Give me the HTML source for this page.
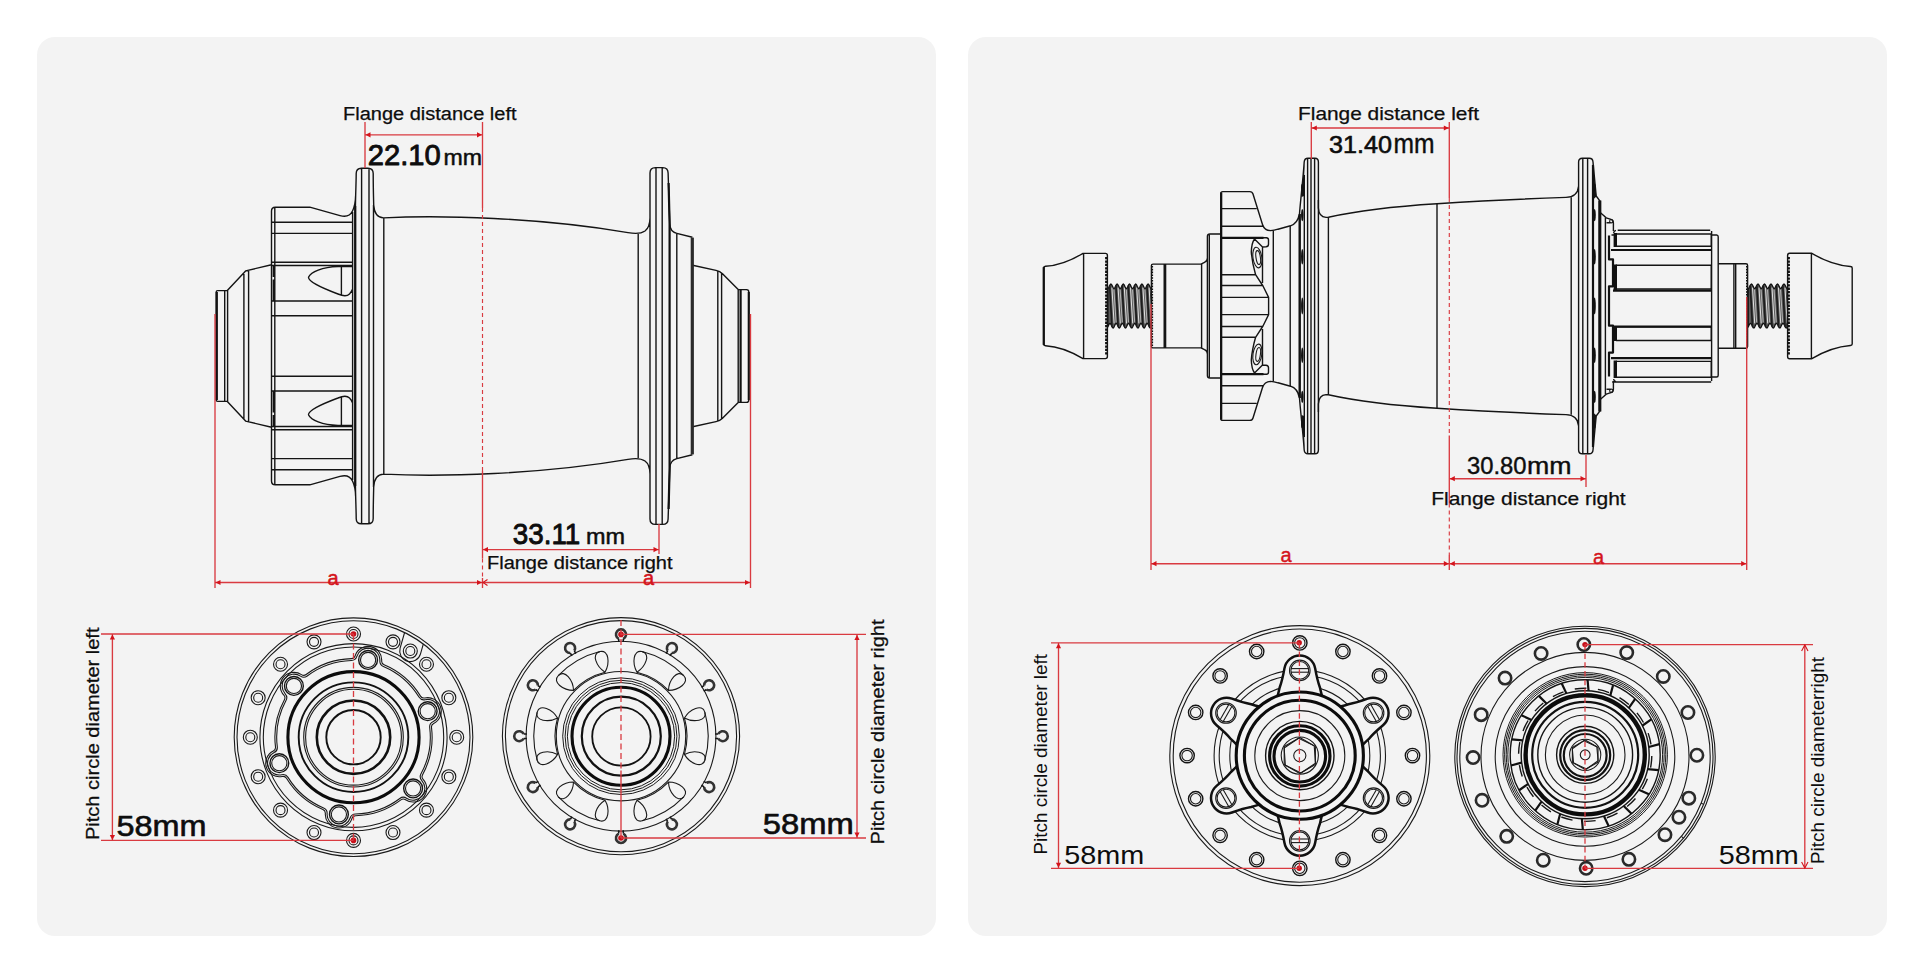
<!DOCTYPE html>
<html lang="en"><head><meta charset="utf-8"><title>Hub flange dimensions</title>
<style>
html,body{margin:0;padding:0;background:#fff;overflow:hidden}
svg{display:block;position:absolute;left:0;top:0}
text{font-family:"Liberation Sans",sans-serif;white-space:pre}
.k{fill:none;stroke:#141414;stroke-width:1.4;stroke-linecap:butt;stroke-linejoin:round}
.k2{fill:none;stroke:#111;stroke-width:2.2;stroke-linecap:butt;stroke-linejoin:round}
.k3{fill:none;stroke:#0c0c0c;stroke-width:3.1;stroke-linecap:butt;stroke-linejoin:round}
.t{fill:none;stroke:#1a1a1a;stroke-width:1.1;stroke-linecap:butt;stroke-linejoin:round}
</style></head><body>
<svg width="1920" height="973" viewBox="0 0 1920 973">
<rect x="37" y="37" width="899" height="899" rx="18" fill="#f3f3f3"/>
<rect x="968" y="37" width="919" height="899" rx="18" fill="#f3f3f3"/>
<path class="k" d="M216.2,346.0 V292 Q216.2,290.6 217.6,290.6 H227.3 L245.6,270.9 L271.5,264.7 M224.7,346.0 V290.8 M227.6,346.0 V290.4 M243.9,346.0 V272.5 M248.6,346.0 V270.2 M271.5,346.0 V211 Q271.5,207.2 275.3,207.2 H309.8 L340,215.6 Q349,218.2 352.5,211 Q355.4,205 355.6,196 M274.8,346.0 V208 M271.5,222.3 H352.4 M271.5,233.4 H352.4 M271.5,262.3 H352.4 M271.5,265.5 H352.4 M271.5,301 H352.4 M271.5,315.8 H352.4 M352,266.6 H338 C322,267 311,272 308.6,277 C307.5,281 322,288 338,294 Q346,297.5 349.5,294 Q351.5,292 352.3,289.5 M341.4,266.8 V294.6 M352.6,346.0 V212 M273.4,266 V277 M273.4,279.5 V300.5 M355.4,346.0 V210 C355.5,195 356.2,182 356.2,173.6 Q356.2,168.3 361.4,168.3 H368 Q373.2,168.3 373.2,173.6 C373.2,185 373.5,197 373.7,205 Q374.5,217.5 383.5,217.9 M361.6,346.0 V168.5 M369,346.0 V168.5 M373.5,346.0 V205 M383.8,346.0 V218 M383.5,217.9 C440,215 540,217.5 628,232.6 Q639.5,234.8 645,231 Q649.8,227.5 650,218 M638.2,346.0 V234 M650,346.0 V173 Q650,167.6 655.4,167.6 H662.8 Q668,167.6 668.1,173 L669.8,224 Q670,231.6 676.8,233.4 L692.4,237.3 M656,346.0 V167.6 M662.2,346.0 V167.6 M676.8,346.0 V233 M717.8,346.0 V271 M721.6,346.0 V273 M738.2,346.0 V290 M692.6,265.2 L716,270.4 Q720,271.2 722.5,273.8 L738.2,289.6 H746.5 Q748.8,289.6 748.8,292"/>
<path class="k2" d="M740.6,346.0 V289.8 M355.2,346.0 V206 M668.6,183 L669.6,224 V346.0 M748.8,346.0 V292 M216.8,346.0 V292"/>
<path class="k2" style="stroke-width:3.2;stroke:#2a2a2a" d="M692.3,346.0 V237.6"/>
<path class="k" d="M216.2,346.0 V292 Q216.2,290.6 217.6,290.6 H227.3 L245.6,270.9 L271.5,264.7 M224.7,346.0 V290.8 M227.6,346.0 V290.4 M243.9,346.0 V272.5 M248.6,346.0 V270.2 M271.5,346.0 V211 Q271.5,207.2 275.3,207.2 H309.8 L340,215.6 Q349,218.2 352.5,211 Q355.4,205 355.6,196 M274.8,346.0 V208 M271.5,222.3 H352.4 M271.5,233.4 H352.4 M271.5,262.3 H352.4 M271.5,265.5 H352.4 M271.5,301 H352.4 M271.5,315.8 H352.4 M352,266.6 H338 C322,267 311,272 308.6,277 C307.5,281 322,288 338,294 Q346,297.5 349.5,294 Q351.5,292 352.3,289.5 M341.4,266.8 V294.6 M352.6,346.0 V212 M273.4,266 V277 M273.4,279.5 V300.5 M355.4,346.0 V210 C355.5,195 356.2,182 356.2,173.6 Q356.2,168.3 361.4,168.3 H368 Q373.2,168.3 373.2,173.6 C373.2,185 373.5,197 373.7,205 Q374.5,217.5 383.5,217.9 M361.6,346.0 V168.5 M369,346.0 V168.5 M373.5,346.0 V205 M383.8,346.0 V218 M383.5,217.9 C440,215 540,217.5 628,232.6 Q639.5,234.8 645,231 Q649.8,227.5 650,218 M638.2,346.0 V234 M650,346.0 V173 Q650,167.6 655.4,167.6 H662.8 Q668,167.6 668.1,173 L669.8,224 Q670,231.6 676.8,233.4 L692.4,237.3 M656,346.0 V167.6 M662.2,346.0 V167.6 M676.8,346.0 V233 M717.8,346.0 V271 M721.6,346.0 V273 M738.2,346.0 V290 M692.6,265.2 L716,270.4 Q720,271.2 722.5,273.8 L738.2,289.6 H746.5 Q748.8,289.6 748.8,292" transform="matrix(1 0 0 -1 0 692.0)"/>
<path class="k2" d="M740.6,346.0 V289.8 M355.2,346.0 V206 M668.6,183 L669.6,224 V346.0 M748.8,346.0 V292 M216.8,346.0 V292" transform="matrix(1 0 0 -1 0 692.0)"/>
<path class="k2" style="stroke-width:3.2;stroke:#2a2a2a" d="M692.3,346.0 V237.6" transform="matrix(1 0 0 -1 0 692.0)"/>
<circle class="t" cx="353.50" cy="737.20" r="119.30"/>
<circle class="t" cx="353.50" cy="737.20" r="116.50"/>
<circle class="t" cx="353.50" cy="737.20" r="93.60"/>
<circle class="t" cx="353.50" cy="737.20" r="90.20"/>
<circle class="t" cx="353.50" cy="634.00" r="7.00"/>
<circle class="t" cx="353.50" cy="634.00" r="4.50"/>
<circle class="t" cx="314.01" cy="641.86" r="7.00"/>
<circle class="t" cx="314.01" cy="641.86" r="4.50"/>
<circle class="t" cx="280.53" cy="664.23" r="7.00"/>
<circle class="t" cx="280.53" cy="664.23" r="4.50"/>
<circle class="t" cx="258.16" cy="697.71" r="7.00"/>
<circle class="t" cx="258.16" cy="697.71" r="4.50"/>
<circle class="t" cx="250.30" cy="737.20" r="7.00"/>
<circle class="t" cx="250.30" cy="737.20" r="4.50"/>
<circle class="t" cx="258.16" cy="776.69" r="7.00"/>
<circle class="t" cx="258.16" cy="776.69" r="4.50"/>
<circle class="t" cx="280.53" cy="810.17" r="7.00"/>
<circle class="t" cx="280.53" cy="810.17" r="4.50"/>
<circle class="t" cx="314.01" cy="832.54" r="7.00"/>
<circle class="t" cx="314.01" cy="832.54" r="4.50"/>
<circle class="t" cx="353.50" cy="840.40" r="7.00"/>
<circle class="t" cx="353.50" cy="840.40" r="4.50"/>
<circle class="t" cx="392.99" cy="832.54" r="7.00"/>
<circle class="t" cx="392.99" cy="832.54" r="4.50"/>
<circle class="t" cx="426.47" cy="810.17" r="7.00"/>
<circle class="t" cx="426.47" cy="810.17" r="4.50"/>
<circle class="t" cx="448.84" cy="776.69" r="7.00"/>
<circle class="t" cx="448.84" cy="776.69" r="4.50"/>
<circle class="t" cx="456.70" cy="737.20" r="7.00"/>
<circle class="t" cx="456.70" cy="737.20" r="4.50"/>
<circle class="t" cx="448.84" cy="697.71" r="7.00"/>
<circle class="t" cx="448.84" cy="697.71" r="4.50"/>
<circle class="t" cx="426.47" cy="664.23" r="7.00"/>
<circle class="t" cx="426.47" cy="664.23" r="4.50"/>
<circle class="t" cx="392.99" cy="641.86" r="7.00"/>
<circle class="t" cx="392.99" cy="641.86" r="4.50"/>
<circle class="t" cx="410.31" cy="651.04" r="7.00"/>
<circle class="t" cx="410.31" cy="651.04" r="4.50"/>
<path class="t" d="M423.36,643.97 L420.50,653.97 A10.6,10.6 0 0 1 400.12,648.12 L404.60,632.50"/>
<path class="t" d="M431.50,727.50 A4.00,4.00 0 0 1 433.70,723.42 A13.60,13.60 0 0 0 424.78,697.94 A4.00,4.00 0 0 1 420.51,696.12 A78.60,78.60 0 0 0 384.10,664.80 A4.00,4.00 0 0 1 381.66,660.85 A13.60,13.60 0 0 0 355.13,655.84 A4.00,4.00 0 0 1 351.43,658.63 A78.60,78.60 0 0 0 306.10,674.50 A4.00,4.00 0 0 1 301.47,674.64 A13.60,13.60 0 0 0 283.86,695.11 A4.00,4.00 0 0 1 284.42,699.71 A78.60,78.60 0 0 0 275.50,746.90 A4.00,4.00 0 0 1 273.30,750.98 A13.60,13.60 0 0 0 282.22,776.46 A4.00,4.00 0 0 1 286.49,778.28 A78.60,78.60 0 0 0 322.90,809.60 A4.00,4.00 0 0 1 325.34,813.55 A13.60,13.60 0 0 0 351.87,818.56 A4.00,4.00 0 0 1 355.57,815.77 A78.60,78.60 0 0 0 400.90,799.90 A4.00,4.00 0 0 1 405.53,799.76 A13.60,13.60 0 0 0 423.14,779.29 A4.00,4.00 0 0 1 422.58,774.69 A78.60,78.60 0 0 0 431.50,727.50 Z"/>
<path class="t" d="M429.71,727.72 A5.80,5.80 0 0 1 432.90,721.80 A11.80,11.80 0 0 0 425.16,699.69 A5.80,5.80 0 0 1 418.98,697.06 A76.80,76.80 0 0 0 383.40,666.46 A5.80,5.80 0 0 1 379.87,660.74 A11.80,11.80 0 0 0 356.85,656.39 A5.80,5.80 0 0 1 351.48,660.43 A76.80,76.80 0 0 0 307.19,675.94 A5.80,5.80 0 0 1 300.47,676.13 A11.80,11.80 0 0 0 285.19,693.89 A5.80,5.80 0 0 1 286.00,700.57 A76.80,76.80 0 0 0 277.29,746.68 A5.80,5.80 0 0 1 274.10,752.60 A11.80,11.80 0 0 0 281.84,774.71 A5.80,5.80 0 0 1 288.02,777.34 A76.80,76.80 0 0 0 323.60,807.94 A5.80,5.80 0 0 1 327.13,813.66 A11.80,11.80 0 0 0 350.15,818.01 A5.80,5.80 0 0 1 355.52,813.97 A76.80,76.80 0 0 0 399.81,798.46 A5.80,5.80 0 0 1 406.53,798.27 A11.80,11.80 0 0 0 421.81,780.51 A5.80,5.80 0 0 1 421.00,773.83 A76.80,76.80 0 0 0 429.71,727.72 Z"/>
<circle class="k" cx="427.68" cy="711.22" r="9.40"/>
<circle class="t" cx="427.68" cy="711.22" r="7.60"/>
<circle class="k" cx="368.09" cy="659.97" r="9.40"/>
<circle class="t" cx="368.09" cy="659.97" r="7.60"/>
<circle class="k" cx="293.91" cy="685.95" r="9.40"/>
<circle class="t" cx="293.91" cy="685.95" r="7.60"/>
<circle class="k" cx="279.32" cy="763.18" r="9.40"/>
<circle class="t" cx="279.32" cy="763.18" r="7.60"/>
<circle class="k" cx="338.91" cy="814.43" r="9.40"/>
<circle class="t" cx="338.91" cy="814.43" r="7.60"/>
<circle class="k" cx="413.09" cy="788.45" r="9.40"/>
<circle class="t" cx="413.09" cy="788.45" r="7.60"/>
<circle class="k3" cx="353.50" cy="737.20" r="65.60"/>
<circle class="k2" cx="353.50" cy="737.20" r="54.80" style="stroke-width:1.9"/>
<circle class="t" cx="353.50" cy="737.20" r="49.80"/>
<circle class="t" cx="353.50" cy="737.20" r="47.90"/>
<circle class="k2" cx="353.50" cy="737.20" r="36.70" style="stroke-width:2.6"/>
<circle class="k2" cx="353.50" cy="737.20" r="27.20" style="stroke-width:1.9"/>
<circle cx="353.5" cy="634.0" r="2.8" fill="#c8101a"/>
<circle cx="353.5" cy="840.4" r="2.8" fill="#c8101a"/>
<circle class="t" cx="621.00" cy="736.20" r="118.60"/>
<circle class="t" cx="621.00" cy="736.20" r="115.60"/>
<circle class="t" cx="621.00" cy="736.20" r="94.90"/>
<path class="k2" style="stroke-width:2.6;stroke:#333" d="M618.73,638.86 A5.0,5.0 0 1 1 623.27,638.86"/><path class="k" style="stroke-width:1.5" d="M618.73,638.86 L618.73,642.06 M623.27,638.86 L623.27,642.06"/>
<path class="k2" style="stroke-width:2.6;stroke:#333" d="M570.36,653.03 A5.0,5.0 0 1 1 574.29,650.76"/><path class="k" style="stroke-width:1.5" d="M570.36,653.03 L571.96,655.80 M574.29,650.76 L575.89,653.53"/>
<path class="k2" style="stroke-width:2.6;stroke:#333" d="M535.56,689.49 A5.0,5.0 0 1 1 537.83,685.56"/><path class="k" style="stroke-width:1.5" d="M535.56,689.49 L538.33,691.09 M537.83,685.56 L540.60,687.16"/>
<path class="k2" style="stroke-width:2.6;stroke:#333" d="M523.66,738.47 A5.0,5.0 0 1 1 523.66,733.93"/><path class="k" style="stroke-width:1.5" d="M523.66,738.47 L526.86,738.47 M523.66,733.93 L526.86,733.93"/>
<path class="k2" style="stroke-width:2.6;stroke:#333" d="M537.83,786.84 A5.0,5.0 0 1 1 535.56,782.91"/><path class="k" style="stroke-width:1.5" d="M537.83,786.84 L540.60,785.24 M535.56,782.91 L538.33,781.31"/>
<path class="k2" style="stroke-width:2.6;stroke:#333" d="M574.29,821.64 A5.0,5.0 0 1 1 570.36,819.37"/><path class="k" style="stroke-width:1.5" d="M574.29,821.64 L575.89,818.87 M570.36,819.37 L571.96,816.60"/>
<path class="k2" style="stroke-width:2.6;stroke:#333" d="M623.27,833.54 A5.0,5.0 0 1 1 618.73,833.54"/><path class="k" style="stroke-width:1.5" d="M623.27,833.54 L623.27,830.34 M618.73,833.54 L618.73,830.34"/>
<path class="k2" style="stroke-width:2.6;stroke:#333" d="M671.64,819.37 A5.0,5.0 0 1 1 667.71,821.64"/><path class="k" style="stroke-width:1.5" d="M671.64,819.37 L670.04,816.60 M667.71,821.64 L666.11,818.87"/>
<path class="k2" style="stroke-width:2.6;stroke:#333" d="M706.44,782.91 A5.0,5.0 0 1 1 704.17,786.84"/><path class="k" style="stroke-width:1.5" d="M706.44,782.91 L703.67,781.31 M704.17,786.84 L701.40,785.24"/>
<path class="k2" style="stroke-width:2.6;stroke:#333" d="M718.34,733.93 A5.0,5.0 0 1 1 718.34,738.47"/><path class="k" style="stroke-width:1.5" d="M718.34,733.93 L715.14,733.93 M718.34,738.47 L715.14,738.47"/>
<path class="k2" style="stroke-width:2.6;stroke:#333" d="M704.17,685.56 A5.0,5.0 0 1 1 706.44,689.49"/><path class="k" style="stroke-width:1.5" d="M704.17,685.56 L701.40,687.16 M706.44,689.49 L703.67,691.09"/>
<path class="k2" style="stroke-width:2.6;stroke:#333" d="M667.71,650.76 A5.0,5.0 0 1 1 671.64,653.03"/><path class="k" style="stroke-width:1.5" d="M667.71,650.76 L666.11,653.53 M671.64,653.03 L670.04,655.80"/>
<path class="t" d="M704.82,760.24 A87.2,87.2 0 0 0 704.82,712.16 M684.44,754.39 A66.0,66.0 0 0 0 684.44,718.01"/>
<path class="t" d="M704.82,760.24 C702.36,769.20 689.49,763.13 684.44,754.39 C693.36,749.66 707.49,751.34 704.82,760.24"/>
<path class="t" d="M704.82,712.16 C707.49,721.06 693.36,722.74 684.44,718.01 C689.49,709.27 702.36,703.20 704.82,712.16"/>
<path class="t" d="M683.73,675.63 A87.2,87.2 0 0 0 642.10,651.59 M668.48,690.35 A66.0,66.0 0 0 0 636.97,672.16"/>
<path class="t" d="M683.73,675.63 C690.26,682.23 678.57,690.35 668.48,690.35 C668.83,680.26 677.35,668.87 683.73,675.63"/>
<path class="t" d="M642.10,651.59 C651.14,653.73 645.53,666.81 636.97,672.16 C631.92,663.41 633.11,649.24 642.10,651.59"/>
<path class="t" d="M599.90,651.59 A87.2,87.2 0 0 0 558.27,675.63 M605.03,672.16 A66.0,66.0 0 0 0 573.52,690.35"/>
<path class="t" d="M599.90,651.59 C608.89,649.24 610.08,663.41 605.03,672.16 C596.47,666.81 590.86,653.73 599.90,651.59"/>
<path class="t" d="M558.27,675.63 C564.65,668.87 573.17,680.26 573.52,690.35 C563.43,690.35 551.74,682.23 558.27,675.63"/>
<path class="t" d="M537.18,712.16 A87.2,87.2 0 0 0 537.18,760.24 M557.56,718.01 A66.0,66.0 0 0 0 557.56,754.39"/>
<path class="t" d="M537.18,712.16 C539.64,703.20 552.51,709.27 557.56,718.01 C548.64,722.74 534.51,721.06 537.18,712.16"/>
<path class="t" d="M537.18,760.24 C534.51,751.34 548.64,749.66 557.56,754.39 C552.51,763.13 539.64,769.20 537.18,760.24"/>
<path class="t" d="M558.27,796.77 A87.2,87.2 0 0 0 599.90,820.81 M573.52,782.05 A66.0,66.0 0 0 0 605.03,800.24"/>
<path class="t" d="M558.27,796.77 C551.74,790.17 563.43,782.05 573.52,782.05 C573.17,792.14 564.65,803.53 558.27,796.77"/>
<path class="t" d="M599.90,820.81 C590.86,818.67 596.47,805.59 605.03,800.24 C610.08,808.99 608.89,823.16 599.90,820.81"/>
<path class="t" d="M642.10,820.81 A87.2,87.2 0 0 0 683.73,796.77 M636.97,800.24 A66.0,66.0 0 0 0 668.48,782.05"/>
<path class="t" d="M642.10,820.81 C633.11,823.16 631.92,808.99 636.97,800.24 C645.53,805.59 651.14,818.67 642.10,820.81"/>
<path class="t" d="M683.73,796.77 C677.35,803.53 668.83,792.14 668.48,782.05 C678.57,782.05 690.26,790.17 683.73,796.77"/>
<circle class="t" cx="621.00" cy="736.20" r="64.70"/>
<circle class="t" cx="621.00" cy="736.20" r="58.30" style="stroke-width:1.0"/>
<circle class="t" cx="621.00" cy="736.20" r="55.90" style="stroke-width:1.0"/>
<circle class="t" cx="621.00" cy="736.20" r="53.60" style="stroke-width:1.0"/>
<circle class="k3" cx="621.00" cy="736.20" r="49.00"/>
<circle class="k2" cx="621.30" cy="736.20" r="39.50"/>
<circle class="k2" cx="621.40" cy="736.50" r="29.20" style="stroke-width:1.8"/>
<circle cx="621.0" cy="634.4" r="2.8" fill="#c8101a"/>
<circle cx="621.0" cy="838.0" r="2.8" fill="#c8101a"/>
<line x1="1106.4" y1="257" x2="1106.4" y2="355.0" stroke="#111" stroke-width="2.6" stroke-dasharray="2.3 1.1"/>
<polygon points="1107.8,288.6 1108.6,287.9 1109.3,286.3 1110.1,284.7 1110.9,284.0 1111.7,284.7 1112.5,286.3 1113.2,287.9 1114.0,288.6 1114.8,287.9 1115.5,286.3 1116.3,284.7 1117.1,284.0 1117.9,284.7 1118.7,286.3 1119.4,287.9 1120.2,288.6 1121.0,287.9 1121.8,286.3 1122.5,284.7 1123.3,284.0 1124.1,284.7 1124.8,286.3 1125.6,287.9 1126.4,288.6 1127.2,287.9 1128.0,286.3 1128.7,284.7 1129.5,284.0 1130.3,284.7 1131.0,286.3 1131.8,287.9 1132.6,288.6 1133.4,287.9 1134.2,286.3 1134.9,284.7 1135.7,284.0 1136.5,284.7 1137.2,286.3 1138.0,287.9 1138.8,288.6 1139.6,287.9 1140.3,286.3 1141.1,284.7 1141.9,284.0 1142.7,284.7 1143.5,286.3 1144.2,287.9 1145.0,288.6 1145.8,287.9 1146.5,286.3 1147.3,284.7 1148.1,284.0 1148.9,284.7 1149.7,286.3 1150.4,287.9 1151.2,288.6 1151.2,327.1 1150.4,328.0 1149.7,327.6 1148.9,326.1 1148.1,324.3 1147.3,323.4 1146.5,323.8 1145.8,325.3 1145.0,327.1 1144.2,328.0 1143.5,327.6 1142.7,326.1 1141.9,324.3 1141.1,323.4 1140.3,323.8 1139.6,325.3 1138.8,327.1 1138.0,328.0 1137.2,327.6 1136.5,326.1 1135.7,324.3 1134.9,323.4 1134.2,323.8 1133.4,325.3 1132.6,327.1 1131.8,328.0 1131.0,327.6 1130.3,326.1 1129.5,324.3 1128.7,323.4 1128.0,323.8 1127.2,325.3 1126.4,327.1 1125.6,328.0 1124.8,327.6 1124.1,326.1 1123.3,324.3 1122.5,323.4 1121.8,323.8 1121.0,325.3 1120.2,327.1 1119.4,328.0 1118.7,327.6 1117.9,326.1 1117.1,324.3 1116.3,323.4 1115.5,323.8 1114.8,325.3 1114.0,327.1 1113.2,328.0 1112.5,327.6 1111.7,326.1 1110.9,324.3 1110.1,323.4 1109.3,323.8 1108.6,325.3 1107.8,327.1" fill="#5a5a5a" stroke="#111" stroke-width="1.3" stroke-linejoin="round"/><line x1="1109.7" y1="285.5" x2="1111.9" y2="326.5" stroke="#1c1c1c" stroke-width="1.7"/><line x1="1111.9" y1="287.6" x2="1114.1" y2="323.4" stroke="#f0f0f0" stroke-width="0.9"/><line x1="1113.9" y1="289.6" x2="1116.1" y2="322.4" stroke="#dcdcdc" stroke-width="0.7"/><line x1="1115.9" y1="285.5" x2="1118.1" y2="326.5" stroke="#1c1c1c" stroke-width="1.7"/><line x1="1118.1" y1="287.6" x2="1120.3" y2="323.4" stroke="#f0f0f0" stroke-width="0.9"/><line x1="1120.1" y1="289.6" x2="1122.3" y2="322.4" stroke="#dcdcdc" stroke-width="0.7"/><line x1="1122.1" y1="285.5" x2="1124.3" y2="326.5" stroke="#1c1c1c" stroke-width="1.7"/><line x1="1124.3" y1="287.6" x2="1126.5" y2="323.4" stroke="#f0f0f0" stroke-width="0.9"/><line x1="1126.3" y1="289.6" x2="1128.5" y2="322.4" stroke="#dcdcdc" stroke-width="0.7"/><line x1="1128.3" y1="285.5" x2="1130.5" y2="326.5" stroke="#1c1c1c" stroke-width="1.7"/><line x1="1130.5" y1="287.6" x2="1132.7" y2="323.4" stroke="#f0f0f0" stroke-width="0.9"/><line x1="1132.5" y1="289.6" x2="1134.7" y2="322.4" stroke="#dcdcdc" stroke-width="0.7"/><line x1="1134.5" y1="285.5" x2="1136.7" y2="326.5" stroke="#1c1c1c" stroke-width="1.7"/><line x1="1136.7" y1="287.6" x2="1138.9" y2="323.4" stroke="#f0f0f0" stroke-width="0.9"/><line x1="1138.7" y1="289.6" x2="1140.9" y2="322.4" stroke="#dcdcdc" stroke-width="0.7"/><line x1="1140.7" y1="285.5" x2="1142.9" y2="326.5" stroke="#1c1c1c" stroke-width="1.7"/><line x1="1142.9" y1="287.6" x2="1145.1" y2="323.4" stroke="#f0f0f0" stroke-width="0.9"/><line x1="1144.9" y1="289.6" x2="1147.1" y2="322.4" stroke="#dcdcdc" stroke-width="0.7"/><line x1="1146.9" y1="285.5" x2="1149.1" y2="326.5" stroke="#1c1c1c" stroke-width="1.7"/><line x1="1149.1" y1="287.6" x2="1151.3" y2="323.4" stroke="#f0f0f0" stroke-width="0.9"/><line x1="1151.1" y1="289.6" x2="1153.3" y2="322.4" stroke="#dcdcdc" stroke-width="0.7"/>
<line x1="1152.2" y1="266" x2="1152.2" y2="346.0" stroke="#111" stroke-width="1.8" stroke-dasharray="1.6 1.2"/>
<path d="M1304.3,163 L1304.3,196 L1301.4,197 C1302.2,186 1303.4,174 1304.3,163 Z" fill="#161616"/>
<path d="M1304.3,449.0 L1304.3,416.0 L1301.4,415.0 C1302.2,426.0 1303.4,438.0 1304.3,449.0 Z" fill="#161616"/>
<path class="k2" style="stroke-width:3.1" d="M1599.8,200.5 V411.5"/>
<path d="M1592.6,163 L1596.4,196.5 L1592.6,200 Z" fill="#161616"/>
<path d="M1592.6,449.0 L1596.4,415.5 L1592.6,412.0 Z" fill="#161616"/>
<circle class="t" cx="1611.3" cy="221.2" r="1.7"/><circle class="t" cx="1611.3" cy="390.8" r="1.7"/>
<line x1="1746.9" y1="266" x2="1746.9" y2="346.0" stroke="#111" stroke-width="1.8" stroke-dasharray="1.6 1.2"/>
<polygon points="1748.2,288.6 1749.0,287.9 1749.8,286.3 1750.6,284.7 1751.5,284.0 1752.3,284.7 1753.1,286.3 1753.9,287.9 1754.7,288.6 1755.5,287.9 1756.3,286.3 1757.1,284.7 1758.0,284.0 1758.8,284.7 1759.6,286.3 1760.4,287.9 1761.2,288.6 1762.0,287.9 1762.8,286.3 1763.6,284.7 1764.5,284.0 1765.3,284.7 1766.1,286.3 1766.9,287.9 1767.7,288.6 1768.5,287.9 1769.3,286.3 1770.1,284.7 1771.0,284.0 1771.8,284.7 1772.6,286.3 1773.4,287.9 1774.2,288.6 1775.0,287.9 1775.8,286.3 1776.6,284.7 1777.5,284.0 1778.3,284.7 1779.1,286.3 1779.9,287.9 1780.7,288.6 1781.5,287.9 1782.3,286.3 1783.1,284.7 1784.0,284.0 1784.8,284.7 1785.6,286.3 1786.4,287.9 1787.2,288.6 1787.2,327.1 1786.4,328.0 1785.6,327.6 1784.8,326.1 1784.0,324.3 1783.1,323.4 1782.3,323.8 1781.5,325.3 1780.7,327.1 1779.9,328.0 1779.1,327.6 1778.3,326.1 1777.5,324.3 1776.6,323.4 1775.8,323.8 1775.0,325.3 1774.2,327.1 1773.4,328.0 1772.6,327.6 1771.8,326.1 1771.0,324.3 1770.1,323.4 1769.3,323.8 1768.5,325.3 1767.7,327.1 1766.9,328.0 1766.1,327.6 1765.3,326.1 1764.5,324.3 1763.6,323.4 1762.8,323.8 1762.0,325.3 1761.2,327.1 1760.4,328.0 1759.6,327.6 1758.8,326.1 1758.0,324.3 1757.1,323.4 1756.3,323.8 1755.5,325.3 1754.7,327.1 1753.9,328.0 1753.1,327.6 1752.3,326.1 1751.5,324.3 1750.6,323.4 1749.8,323.8 1749.0,325.3 1748.2,327.1" fill="#5a5a5a" stroke="#111" stroke-width="1.3" stroke-linejoin="round"/><line x1="1750.2" y1="285.5" x2="1752.5" y2="326.5" stroke="#1c1c1c" stroke-width="1.7"/><line x1="1752.5" y1="287.6" x2="1754.7" y2="323.4" stroke="#f0f0f0" stroke-width="0.9"/><line x1="1754.5" y1="289.6" x2="1756.7" y2="322.4" stroke="#dcdcdc" stroke-width="0.7"/><line x1="1756.8" y1="285.5" x2="1759.0" y2="326.5" stroke="#1c1c1c" stroke-width="1.7"/><line x1="1759.0" y1="287.6" x2="1761.2" y2="323.4" stroke="#f0f0f0" stroke-width="0.9"/><line x1="1761.0" y1="289.6" x2="1763.2" y2="322.4" stroke="#dcdcdc" stroke-width="0.7"/><line x1="1763.2" y1="285.5" x2="1765.5" y2="326.5" stroke="#1c1c1c" stroke-width="1.7"/><line x1="1765.5" y1="287.6" x2="1767.7" y2="323.4" stroke="#f0f0f0" stroke-width="0.9"/><line x1="1767.5" y1="289.6" x2="1769.7" y2="322.4" stroke="#dcdcdc" stroke-width="0.7"/><line x1="1769.8" y1="285.5" x2="1772.0" y2="326.5" stroke="#1c1c1c" stroke-width="1.7"/><line x1="1772.0" y1="287.6" x2="1774.2" y2="323.4" stroke="#f0f0f0" stroke-width="0.9"/><line x1="1774.0" y1="289.6" x2="1776.2" y2="322.4" stroke="#dcdcdc" stroke-width="0.7"/><line x1="1776.2" y1="285.5" x2="1778.5" y2="326.5" stroke="#1c1c1c" stroke-width="1.7"/><line x1="1778.5" y1="287.6" x2="1780.7" y2="323.4" stroke="#f0f0f0" stroke-width="0.9"/><line x1="1780.5" y1="289.6" x2="1782.7" y2="322.4" stroke="#dcdcdc" stroke-width="0.7"/><line x1="1782.8" y1="285.5" x2="1785.0" y2="326.5" stroke="#1c1c1c" stroke-width="1.7"/><line x1="1785.0" y1="287.6" x2="1787.2" y2="323.4" stroke="#f0f0f0" stroke-width="0.9"/><line x1="1787.0" y1="289.6" x2="1789.2" y2="322.4" stroke="#dcdcdc" stroke-width="0.7"/>
<line x1="1788.6" y1="257" x2="1788.6" y2="355.0" stroke="#111" stroke-width="2.6" stroke-dasharray="2.3 1.1"/>
<ellipse cx="1302.3" cy="424.7" rx="1.25" ry="3.6" fill="#111"/>
<ellipse cx="1594.6" cy="424.7" rx="1.2" ry="3.6" fill="#111"/>
<ellipse cx="1302.3" cy="396.9" rx="1.25" ry="6.1" fill="#111"/>
<ellipse cx="1594.6" cy="396.9" rx="1.2" ry="6.1" fill="#111"/>
<ellipse cx="1302.3" cy="355.2" rx="1.25" ry="7.8" fill="#111"/>
<ellipse cx="1594.6" cy="355.2" rx="1.2" ry="7.8" fill="#111"/>
<ellipse cx="1302.3" cy="306.0" rx="1.25" ry="8.4" fill="#111"/>
<ellipse cx="1594.6" cy="306.0" rx="1.2" ry="8.4" fill="#111"/>
<ellipse cx="1302.3" cy="256.8" rx="1.25" ry="7.8" fill="#111"/>
<ellipse cx="1594.6" cy="256.8" rx="1.2" ry="7.8" fill="#111"/>
<ellipse cx="1302.3" cy="215.1" rx="1.25" ry="6.1" fill="#111"/>
<ellipse cx="1594.6" cy="215.1" rx="1.2" ry="6.1" fill="#111"/>
<ellipse cx="1302.3" cy="187.3" rx="1.25" ry="3.6" fill="#111"/>
<ellipse cx="1594.6" cy="187.3" rx="1.2" ry="3.6" fill="#111"/>
<ellipse cx="1257.4" cy="257.6" rx="4.4" ry="10.4" transform="rotate(-8 1257.4 257.6)" class="t"/>
<ellipse cx="1258.2" cy="257.6" rx="2.2" ry="7.0" transform="rotate(-8 1257.8 257.6)" class="t"/>
<ellipse cx="1257.4" cy="354.4" rx="4.4" ry="10.4" transform="rotate(8 1257.4 354.4)" class="t"/>
<ellipse cx="1258.2" cy="354.4" rx="2.2" ry="7.0" transform="rotate(8 1257.8 354.4)" class="t"/>
<path class="k" d="M1151.4,306.0 V265.6 Q1151.4,264.1 1153,264.1 H1201 L1204.5,262.3 Q1207.4,261 1207.4,258 M1207.4,306.0 V236.5 Q1207.4,234 1210,234 H1220.6 M1220.8,306.0 V193.5 Q1220.8,191.6 1222.8,191.6 H1249.8 Q1252.3,191.6 1253,194 L1262.5,224.5 Q1264.5,230.5 1270.5,230.6 Q1274,230.4 1278,229.2 L1290.5,225.8 Q1297.6,223.6 1299.2,214.7 M1221,208.6 H1256.6 M1221,226.3 H1262.8 M1221,274.7 H1255.5 M1221,285.5 H1262.6 M1221,297.4 H1268.6 M1263,237.7 H1266.4 Q1268.4,237.8 1268.5,239.8 V244.4 Q1268.4,246.6 1266,246.8 L1262.5,247 M1254.5,239 Q1251.6,243 1251.3,252 Q1252,262 1255.6,274.7 L1263,286 L1268.6,297.4 V306.0 M1254.5,239 L1262.5,247 V283 M1299.4,306.0 V215 C1300.5,200 1303,180 1304.2,162 Q1304.5,158.2 1308,158.2 H1315 Q1318.4,158.2 1318.4,162 V208 Q1318.8,216.8 1326,217.4 L1328.4,217.2 M1328.4,217.2 C1365,209 1400,206 1437,203.7 C1490,200.4 1530,198.6 1566,197.4 Q1577.8,197 1578.6,186 M1578.6,306.0 V162 Q1578.6,158.2 1582.4,158.2 H1589.2 Q1592.8,158.2 1593,162 L1596.2,196 L1600.2,201.4 V212.4 L1606.2,217.8 L1611,219.4 Q1613.4,220.2 1613.4,223 V231 M1606.5,222.8 H1610.5 M1718.2,263.8 H1746 Q1747.6,263.8 1747.6,265.4 V306.0"/>
<path class="k" d="M1151.4,306.0 V265.6 Q1151.4,264.1 1153,264.1 H1201 L1204.5,262.3 Q1207.4,261 1207.4,258 M1207.4,306.0 V236.5 Q1207.4,234 1210,234 H1220.6 M1220.8,306.0 V193.5 Q1220.8,191.6 1222.8,191.6 H1249.8 Q1252.3,191.6 1253,194 L1262.5,224.5 Q1264.5,230.5 1270.5,230.6 Q1274,230.4 1278,229.2 L1290.5,225.8 Q1297.6,223.6 1299.2,214.7 M1221,208.6 H1256.6 M1221,226.3 H1262.8 M1221,274.7 H1255.5 M1221,285.5 H1262.6 M1221,297.4 H1268.6 M1263,237.7 H1266.4 Q1268.4,237.8 1268.5,239.8 V244.4 Q1268.4,246.6 1266,246.8 L1262.5,247 M1254.5,239 Q1251.6,243 1251.3,252 Q1252,262 1255.6,274.7 L1263,286 L1268.6,297.4 V306.0 M1254.5,239 L1262.5,247 V283 M1299.4,306.0 V215 C1300.5,200 1303,180 1304.2,162 Q1304.5,158.2 1308,158.2 H1315 Q1318.4,158.2 1318.4,162 V208 Q1318.8,216.8 1326,217.4 L1328.4,217.2 M1328.4,217.2 C1365,209 1400,206 1437,203.7 C1490,200.4 1530,198.6 1566,197.4 Q1577.8,197 1578.6,186 M1578.6,306.0 V162 Q1578.6,158.2 1582.4,158.2 H1589.2 Q1592.8,158.2 1593,162 L1596.2,196 L1600.2,201.4 V212.4 L1606.2,217.8 L1611,219.4 Q1613.4,220.2 1613.4,223 V231 M1606.5,222.8 H1610.5 M1718.2,263.8 H1746 Q1747.6,263.8 1747.6,265.4 V306.0" transform="matrix(1 0 0 -1 0 612.0)"/>
<path class="k" d="M1043.6,268 Q1043.6,266.4 1045.5,266.3 C1060,265.5 1072,260 1083,253.4 H1105.4 Q1107.4,253.4 1107.4,255.5 V356.5 Q1107.4,358.6 1105.4,358.6 H1083 C1072,352.0 1060,346.5 1045.5,345.7 Q1043.6,345.6 1043.6,344.0 Z M1083.6,253.4 V358.6 M1164.2,264.1 V347.9 M1165.6,264.1 V347.9 M1201.6,264.1 V347.9 M1209.3,234.5 V377.5 M1273.3,230.4 V381.6 M1290.2,226 V386.0 M1304.3,175 V437.0 M1307.6,158.6 V453.4 M1311,158.6 V453.4 M1314.6,158.6 V453.4 M1318.4,200 V412.0 M1328.4,217.2 V394.8 M1437,203.7 V408.3 M1571.2,197.3 V414.7 M1582.8,158.6 V453.4 M1587.6,158.6 V453.4 M1605.4,217.4 V394.6 M1733.9,263.8 V348.2 M1735.7,263.8 V348.2 M1852.2,268 Q1852.2,266.6 1850.4,266.5 C1836,265.4 1823,260 1811.4,253.2 H1789.6 Q1787.6,253.2 1787.6,255.4 V356.6 Q1787.6,358.8 1789.6,358.8 H1811.4 C1823,352.0 1836,346.6 1850.4,345.5 Q1852.2,345.4 1852.2,344.0 Z M1811.4,253.2 V358.8"/>
<path class="k2" d="M1043.8,267 V345.0 M1221,237.8 H1263.5 M1221,374.2 H1263.5 M1221.2,192.5 V419.5 M1299.8,214 V398.0 M1593,165 V447.0"/>
<path class="k" d="M1611.5,235 H1614.4 M1711.4,235 H1716.6 Q1718.2,235 1718.2,236.8 V375.2 Q1718.2,377.0 1716.6,377.0 H1711.4 M1711.6,231 V381.0 M1617.7,230.2 H1710.2 M1616.2,234 H1711.2 V246.2 H1616.2 Z M1616.2,265.3 H1711.2 V289.0 H1616.2 Z M1616.2,326.8 H1711.2 V340.5 H1616.2 Z M1616.2,361.4 H1711.2 V377.2 H1616.2 Z M1612.2,382.0 H1711.2 M1616,230.4 Q1613.8,230.8 1613.6,233 M1616,381.6 Q1613.8,381.2 1613.6,379.0"/>
<path class="k2" d="M1609,235.4 V259.4 H1613 V286.3 H1609 V325.7 H1613 V352.6 H1609 V376.6 M1611,250 H1711.2 M1613,290.6 H1711.2 M1613,326.6 H1711.2 M1611,358.2 H1711.2"/>
<path class="k2" style="stroke-width:3.4" d="M1615.3,233 V247 M1615.3,264.6 V290 M1615.3,326 V341 M1615.3,360.6 V378"/>
<circle class="t" cx="1299.80" cy="755.60" r="130.00"/>
<circle class="t" cx="1299.80" cy="755.60" r="126.60"/>
<circle class="k" cx="1299.80" cy="642.90" r="7.20"/>
<circle class="t" cx="1299.80" cy="642.90" r="5.20"/>
<circle class="k" cx="1256.67" cy="651.48" r="7.20"/>
<circle class="t" cx="1256.67" cy="651.48" r="5.20"/>
<circle class="k" cx="1220.11" cy="675.91" r="7.20"/>
<circle class="t" cx="1220.11" cy="675.91" r="5.20"/>
<circle class="k" cx="1195.68" cy="712.47" r="7.20"/>
<circle class="t" cx="1195.68" cy="712.47" r="5.20"/>
<circle class="k" cx="1187.10" cy="755.60" r="7.20"/>
<circle class="t" cx="1187.10" cy="755.60" r="5.20"/>
<circle class="k" cx="1195.68" cy="798.73" r="7.20"/>
<circle class="t" cx="1195.68" cy="798.73" r="5.20"/>
<circle class="k" cx="1220.11" cy="835.29" r="7.20"/>
<circle class="t" cx="1220.11" cy="835.29" r="5.20"/>
<circle class="k" cx="1256.67" cy="859.72" r="7.20"/>
<circle class="t" cx="1256.67" cy="859.72" r="5.20"/>
<circle class="k" cx="1299.80" cy="868.30" r="7.20"/>
<circle class="t" cx="1299.80" cy="868.30" r="5.20"/>
<circle class="k" cx="1342.93" cy="859.72" r="7.20"/>
<circle class="t" cx="1342.93" cy="859.72" r="5.20"/>
<circle class="k" cx="1379.49" cy="835.29" r="7.20"/>
<circle class="t" cx="1379.49" cy="835.29" r="5.20"/>
<circle class="k" cx="1403.92" cy="798.73" r="7.20"/>
<circle class="t" cx="1403.92" cy="798.73" r="5.20"/>
<circle class="k" cx="1412.50" cy="755.60" r="7.20"/>
<circle class="t" cx="1412.50" cy="755.60" r="5.20"/>
<circle class="k" cx="1403.92" cy="712.47" r="7.20"/>
<circle class="t" cx="1403.92" cy="712.47" r="5.20"/>
<circle class="k" cx="1379.49" cy="675.91" r="7.20"/>
<circle class="t" cx="1379.49" cy="675.91" r="5.20"/>
<circle class="k" cx="1342.93" cy="651.48" r="7.20"/>
<circle class="t" cx="1342.93" cy="651.48" r="5.20"/>
<circle class="t" cx="1299.80" cy="755.60" r="85.70"/>
<circle class="t" cx="1299.80" cy="755.60" r="80.60"/>
<circle class="t" cx="1299.80" cy="755.60" r="70.00"/>
<path class="k2" style="fill:#f3f3f3;stroke-width:2.5" d="M1362.51,745.03 Q1365.73,741.79 1368.62,739.19 C1372.17,734.95 1377.26,730.12 1383.01,725.30 A15.60,15.60 0 0 0 1367.64,698.69 C1360.60,701.26 1353.87,703.25 1348.42,704.21 Q1344.73,705.41 1340.31,706.57"/>
<circle class="t" cx="1373.59" cy="713.00" r="10.30"/>
<circle class="t" cx="1373.59" cy="713.00" r="8.90"/>
<line class="t" x1="1376.38" y1="721.45" x2="1367.67" y2="706.35"/>
<line class="t" x1="1379.50" y1="719.65" x2="1370.79" y2="704.55"/>
<path class="k2" style="fill:#f3f3f3;stroke-width:2.5" d="M1322.00,696.00 Q1320.80,691.60 1320.00,687.80 C1318.10,682.60 1316.47,675.78 1315.16,668.39 A15.60,15.60 0 0 0 1284.44,668.39 C1283.13,675.78 1281.50,682.60 1279.60,687.80 Q1278.80,691.60 1277.60,696.00"/>
<circle class="t" cx="1299.80" cy="670.40" r="10.30"/>
<circle class="t" cx="1299.80" cy="670.40" r="8.90"/>
<line class="t" x1="1308.52" y1="672.20" x2="1291.08" y2="672.20"/>
<line class="t" x1="1308.52" y1="668.60" x2="1291.08" y2="668.60"/>
<path class="k2" style="fill:#f3f3f3;stroke-width:2.5" d="M1259.29,706.57 Q1254.87,705.41 1251.18,704.21 C1245.73,703.25 1239.00,701.26 1231.96,698.69 A15.60,15.60 0 0 0 1216.59,725.30 C1222.34,730.12 1227.43,734.95 1230.98,739.19 Q1233.87,741.79 1237.09,745.03"/>
<circle class="t" cx="1226.01" cy="713.00" r="10.30"/>
<circle class="t" cx="1226.01" cy="713.00" r="8.90"/>
<line class="t" x1="1231.93" y1="706.35" x2="1223.22" y2="721.45"/>
<line class="t" x1="1228.81" y1="704.55" x2="1220.10" y2="719.65"/>
<path class="k2" style="fill:#f3f3f3;stroke-width:2.5" d="M1237.09,766.17 Q1233.87,769.41 1230.98,772.01 C1227.43,776.25 1222.34,781.08 1216.59,785.90 A15.60,15.60 0 0 0 1231.96,812.51 C1239.00,809.94 1245.73,807.95 1251.18,806.99 Q1254.87,805.79 1259.29,804.63"/>
<circle class="t" cx="1226.01" cy="798.20" r="10.30"/>
<circle class="t" cx="1226.01" cy="798.20" r="8.90"/>
<line class="t" x1="1223.22" y1="789.75" x2="1231.93" y2="804.85"/>
<line class="t" x1="1220.10" y1="791.55" x2="1228.81" y2="806.65"/>
<path class="k2" style="fill:#f3f3f3;stroke-width:2.5" d="M1277.60,815.20 Q1278.80,819.60 1279.60,823.40 C1281.50,828.60 1283.13,835.42 1284.44,842.81 A15.60,15.60 0 0 0 1315.16,842.81 C1316.47,835.42 1318.10,828.60 1320.00,823.40 Q1320.80,819.60 1322.00,815.20"/>
<circle class="t" cx="1299.80" cy="840.80" r="10.30"/>
<circle class="t" cx="1299.80" cy="840.80" r="8.90"/>
<line class="t" x1="1291.08" y1="839.00" x2="1308.52" y2="839.00"/>
<line class="t" x1="1291.08" y1="842.60" x2="1308.52" y2="842.60"/>
<path class="k2" style="fill:#f3f3f3;stroke-width:2.5" d="M1340.31,804.63 Q1344.73,805.79 1348.42,806.99 C1353.87,807.95 1360.60,809.94 1367.64,812.51 A15.60,15.60 0 0 0 1383.01,785.90 C1377.26,781.08 1372.17,776.25 1368.62,772.01 Q1365.73,769.41 1362.51,766.17"/>
<circle class="t" cx="1373.59" cy="798.20" r="10.30"/>
<circle class="t" cx="1373.59" cy="798.20" r="8.90"/>
<line class="t" x1="1367.67" y1="804.85" x2="1376.38" y2="789.75"/>
<line class="t" x1="1370.79" y1="806.65" x2="1379.50" y2="791.55"/>
<circle class="k3" cx="1299.80" cy="755.60" r="63.60" style="fill:#f3f3f3"/>
<circle class="k3" cx="1299.80" cy="755.60" r="55.40"/>
<circle class="t" cx="1299.80" cy="755.60" r="45.00"/>
<circle class="k" cx="1299.80" cy="755.60" r="34.20"/>
<circle class="k3" cx="1299.80" cy="755.90" r="30.20"/>
<circle class="k3" cx="1299.80" cy="756.20" r="25.80"/>
<circle class="t" cx="1299.80" cy="755.60" r="18.60"/>
<polygon class="t" points="1299.80,737.60 1284.21,746.60 1284.21,764.60 1299.80,773.60 1315.39,764.60 1315.39,746.60"/>
<polygon class="t" points="1298.59,738.24 1284.16,747.97 1285.37,765.33 1301.01,772.96 1315.44,763.23 1314.23,745.87"/>
<circle class="t" cx="1299.80" cy="755.60" r="6.10"/>
<circle cx="1299.2" cy="642.8" r="2.7" fill="#c8101a"/>
<circle cx="1299.2" cy="868.3" r="2.7" fill="#c8101a"/>
<circle class="t" cx="1585.00" cy="756.40" r="130.20"/>
<circle class="t" cx="1585.00" cy="756.40" r="128.00"/>
<circle class="t" cx="1585.00" cy="756.40" r="125.20"/>
<circle class="k2" cx="1583.83" cy="644.51" r="6.20" style="stroke-width:2.6;stroke:#2a2a2a"/>
<circle class="k2" cx="1541.10" cy="653.47" r="6.20" style="stroke-width:2.6;stroke:#2a2a2a"/>
<circle class="k2" cx="1505.05" cy="678.11" r="6.20" style="stroke-width:2.6;stroke:#2a2a2a"/>
<circle class="k2" cx="1481.18" cy="714.66" r="6.20" style="stroke-width:2.6;stroke:#2a2a2a"/>
<circle class="k2" cx="1473.11" cy="757.57" r="6.20" style="stroke-width:2.6;stroke:#2a2a2a"/>
<circle class="k2" cx="1482.07" cy="800.30" r="6.20" style="stroke-width:2.6;stroke:#2a2a2a"/>
<circle class="k2" cx="1506.71" cy="836.35" r="6.20" style="stroke-width:2.6;stroke:#2a2a2a"/>
<circle class="k2" cx="1543.26" cy="860.22" r="6.20" style="stroke-width:2.6;stroke:#2a2a2a"/>
<circle class="k2" cx="1586.17" cy="868.29" r="6.20" style="stroke-width:2.6;stroke:#2a2a2a"/>
<circle class="k2" cx="1628.90" cy="859.33" r="6.20" style="stroke-width:2.6;stroke:#2a2a2a"/>
<circle class="k2" cx="1664.95" cy="834.69" r="6.20" style="stroke-width:2.6;stroke:#2a2a2a"/>
<circle class="k2" cx="1688.82" cy="798.14" r="6.20" style="stroke-width:2.6;stroke:#2a2a2a"/>
<circle class="k2" cx="1696.89" cy="755.23" r="6.20" style="stroke-width:2.6;stroke:#2a2a2a"/>
<circle class="k2" cx="1687.93" cy="712.50" r="6.20" style="stroke-width:2.6;stroke:#2a2a2a"/>
<circle class="k2" cx="1663.29" cy="676.45" r="6.20" style="stroke-width:2.6;stroke:#2a2a2a"/>
<circle class="k2" cx="1626.74" cy="652.58" r="6.20" style="stroke-width:2.6;stroke:#2a2a2a"/>
<circle class="k2" cx="1678.95" cy="817.18" r="6.20" style="stroke-width:2.6;stroke:#2a2a2a"/>
<line class="t" x1="1701.08" y1="803.30" x2="1703.68" y2="804.35"/>
<line class="t" x1="1681.33" y1="836.37" x2="1683.48" y2="838.16"/>
<circle class="t" cx="1585.00" cy="756.40" r="104.00"/>
<circle class="t" cx="1585.00" cy="756.40" r="89.80"/>
<circle class="t" cx="1585.20" cy="754.80" r="82.20" style="stroke-width:1.0"/>
<circle class="t" cx="1585.20" cy="754.80" r="80.60" style="stroke-width:1.0"/>
<circle class="t" cx="1585.20" cy="754.80" r="79.00" style="stroke-width:1.0"/>
<circle class="t" cx="1585.20" cy="754.80" r="77.40" style="stroke-width:1.0"/>
<circle class="k" cx="1585.20" cy="754.80" r="75.00"/>
<circle class="k" cx="1585.20" cy="754.80" r="64.00"/>
<path class="k2" d="M1648.72,747.00 L1659.43,744.10 M1642.22,725.74 L1651.30,719.36 M1628.85,707.99 L1635.19,698.89 M1610.21,695.89 L1613.05,685.16 M1588.55,690.89 L1587.56,679.84 M1566.49,693.60 L1561.77,683.55 M1546.68,703.69 L1538.82,695.86 M1531.53,719.94 L1521.46,715.28 M1522.84,740.40 L1511.78,739.46 M1521.68,762.60 L1510.97,765.50 M1528.18,783.86 L1519.10,790.24 M1541.55,801.61 L1535.21,810.71 M1560.19,813.71 L1557.35,824.44 M1581.85,818.71 L1582.84,829.76 M1603.91,816.00 L1608.63,826.05 M1623.72,805.91 L1631.58,813.74 M1638.87,789.66 L1648.94,794.32 M1647.56,769.20 L1658.62,770.14 "/>
<path class="k" d="M1650.98,744.38 A66.6,66.6 0 0 0 1648.17,733.12 M1643.45,722.51 A66.6,66.6 0 0 0 1636.96,712.89 M1628.89,704.54 A66.6,66.6 0 0 0 1619.50,697.71 M1609.07,692.62 A66.6,66.6 0 0 0 1597.91,689.42 M1586.36,688.21 A66.6,66.6 0 0 0 1574.78,689.02 M1563.52,691.83 A66.6,66.6 0 0 0 1552.91,696.55 M1543.29,703.04 A66.6,66.6 0 0 0 1534.94,711.11 M1528.11,720.50 A66.6,66.6 0 0 0 1523.02,730.93 M1519.82,742.09 A66.6,66.6 0 0 0 1518.61,753.64 M1519.42,765.22 A66.6,66.6 0 0 0 1522.23,776.48 M1526.95,787.09 A66.6,66.6 0 0 0 1533.44,796.71 M1541.51,805.06 A66.6,66.6 0 0 0 1550.90,811.89 M1561.33,816.98 A66.6,66.6 0 0 0 1572.49,820.18 M1584.04,821.39 A66.6,66.6 0 0 0 1595.62,820.58 M1606.88,817.77 A66.6,66.6 0 0 0 1617.49,813.05 M1627.11,806.56 A66.6,66.6 0 0 0 1635.46,798.49 M1642.29,789.10 A66.6,66.6 0 0 0 1647.38,778.67 M1650.58,767.51 A66.6,66.6 0 0 0 1651.79,755.96 "/>
<circle class="k3" cx="1585.20" cy="754.80" r="59.60" style="stroke-width:4.4"/>
<circle class="k2" cx="1585.20" cy="754.80" r="53.00"/>
<circle class="k" cx="1585.20" cy="754.80" r="47.40"/>
<circle class="t" cx="1585.20" cy="754.80" r="39.80"/>
<circle class="k" cx="1585.20" cy="754.80" r="28.60"/>
<circle class="k2" cx="1585.20" cy="755.10" r="25.00"/>
<circle class="k2" cx="1585.20" cy="755.40" r="21.40"/>
<circle class="t" cx="1585.20" cy="754.80" r="15.60"/>
<polygon class="t" points="1585.20,740.00 1572.38,747.40 1572.38,762.20 1585.20,769.60 1598.02,762.20 1598.02,747.40"/>
<polygon class="t" points="1583.96,740.65 1572.33,748.80 1573.57,762.94 1586.44,768.95 1598.07,760.80 1596.83,746.66"/>
<circle class="t" cx="1585.20" cy="754.80" r="4.90"/>
<circle cx="1585" cy="644.6" r="2.7" fill="#c8101a"/>
<circle cx="1585" cy="868.3" r="2.7" fill="#c8101a"/>
<line x1="365" y1="122" x2="365" y2="168" stroke="#d93a40" stroke-width="1.35"/>
<line x1="482.5" y1="122" x2="482.5" y2="208" stroke="#d93a40" stroke-width="1.35"/>
<line x1="482.5" y1="208" x2="482.5" y2="471" stroke="#d93a40" stroke-width="1.15" stroke-dasharray="4 3"/>
<line x1="482.5" y1="471" x2="482.5" y2="558.5" stroke="#d93a40" stroke-width="1.35"/>
<line x1="482.5" y1="558.5" x2="482.5" y2="579" stroke="#d93a40" stroke-width="1.15" stroke-dasharray="4 3"/>
<line x1="482.5" y1="578" x2="482.5" y2="588" stroke="#d93a40" stroke-width="1.35"/>
<line x1="365" y1="134.8" x2="482.5" y2="134.8" stroke="#d93a40" stroke-width="1.35"/>
<polygon points="365.5,134.8 370.5,132.2 370.5,137.4" fill="#d4141c"/>
<polygon points="482.0,134.8 477.0,132.2 477.0,137.4" fill="#d4141c"/>
<line x1="215" y1="314" x2="215" y2="588" stroke="#d93a40" stroke-width="1.35"/>
<line x1="750.5" y1="314" x2="750.5" y2="588" stroke="#d93a40" stroke-width="1.35"/>
<line x1="215" y1="582.5" x2="750.5" y2="582.5" stroke="#d93a40" stroke-width="1.35"/>
<polygon points="215.5,582.5 220.5,579.9 220.5,585.1" fill="#d4141c"/>
<polygon points="482.0,582.5 477.0,579.9 477.0,585.1" fill="#d4141c"/>
<polyline points="487.5,579.5 483.0,582.5 487.5,585.5" fill="none" stroke="#d4141c" stroke-width="1.1"/>
<polygon points="750.0,582.5 745.0,579.9 745.0,585.1" fill="#d4141c"/>
<line x1="659" y1="524" x2="659" y2="554" stroke="#d93a40" stroke-width="1.35"/>
<line x1="482.5" y1="549.6" x2="659" y2="549.6" stroke="#d93a40" stroke-width="1.35"/>
<polygon points="483.0,549.6 488.0,547.0 488.0,552.2" fill="#d4141c"/>
<polygon points="658.5,549.6 653.5,547.0 653.5,552.2" fill="#d4141c"/>
<line x1="101" y1="634" x2="353.5" y2="634" stroke="#d93a40" stroke-width="1.35"/>
<line x1="101" y1="840.4" x2="353.5" y2="840.4" stroke="#d93a40" stroke-width="1.35"/>
<line x1="112.4" y1="634" x2="112.4" y2="840.4" stroke="#d93a40" stroke-width="1.35"/>
<polygon points="112.4,634.5 109.8,639.5 115.0,639.5" fill="#d4141c"/>
<polygon points="112.4,840.0 109.8,835.0 115.0,835.0" fill="#d4141c"/>
<line x1="353.5" y1="634" x2="353.5" y2="840.4" stroke="#d93a40" stroke-width="1.3" stroke-dasharray="6 3.5"/>
<line x1="621" y1="634.4" x2="866" y2="634.4" stroke="#d93a40" stroke-width="1.35"/>
<line x1="621" y1="838" x2="866" y2="838" stroke="#d93a40" stroke-width="1.35"/>
<line x1="857" y1="634.4" x2="857" y2="838" stroke="#d93a40" stroke-width="1.35"/>
<polygon points="857.0,635.0 854.4,640.0 859.6,640.0" fill="#d4141c"/>
<polygon points="857.0,837.5 854.4,832.5 859.6,832.5" fill="#d4141c"/>
<line x1="621" y1="620" x2="621" y2="770.5" stroke="#d93a40" stroke-width="1.3" stroke-dasharray="6 3.5"/>
<line x1="621" y1="770.5" x2="621" y2="838" stroke="#d93a40" stroke-width="1.35"/>
<line x1="1311.3" y1="122" x2="1311.3" y2="159" stroke="#d93a40" stroke-width="1.35"/>
<line x1="1449.3" y1="122" x2="1449.3" y2="198" stroke="#d93a40" stroke-width="1.35"/>
<line x1="1449.3" y1="198" x2="1449.3" y2="435.5" stroke="#d93a40" stroke-width="1.15" stroke-dasharray="4 3"/>
<line x1="1449.3" y1="435.5" x2="1449.3" y2="503.5" stroke="#d93a40" stroke-width="1.35"/>
<line x1="1449.3" y1="503.5" x2="1449.3" y2="555" stroke="#d93a40" stroke-width="1.15" stroke-dasharray="4 3"/>
<line x1="1449.3" y1="555" x2="1449.3" y2="570" stroke="#d93a40" stroke-width="1.35"/>
<line x1="1311.3" y1="128" x2="1449.3" y2="128" stroke="#d93a40" stroke-width="1.35"/>
<polygon points="1311.8,128.0 1316.8,125.4 1316.8,130.6" fill="#d4141c"/>
<polygon points="1448.8,128.0 1443.8,125.4 1443.8,130.6" fill="#d4141c"/>
<line x1="1151" y1="304" x2="1151" y2="570" stroke="#d93a40" stroke-width="1.35"/>
<line x1="1746.7" y1="297" x2="1746.7" y2="570" stroke="#d93a40" stroke-width="1.35"/>
<line x1="1151" y1="563.7" x2="1746.7" y2="563.7" stroke="#d93a40" stroke-width="1.35"/>
<polygon points="1151.5,563.7 1156.5,561.1 1156.5,566.3" fill="#d4141c"/>
<polygon points="1448.8,563.7 1443.8,561.1 1443.8,566.3" fill="#d4141c"/>
<polygon points="1449.8,563.7 1454.8,561.1 1454.8,566.3" fill="#d4141c"/>
<polygon points="1746.2,563.7 1741.2,561.1 1741.2,566.3" fill="#d4141c"/>
<line x1="1586" y1="455" x2="1586" y2="487" stroke="#d93a40" stroke-width="1.35"/>
<line x1="1449.3" y1="478.7" x2="1586" y2="478.7" stroke="#d93a40" stroke-width="1.35"/>
<polygon points="1449.8,478.7 1454.8,476.1 1454.8,481.3" fill="#d4141c"/>
<polygon points="1585.5,478.7 1580.5,476.1 1580.5,481.3" fill="#d4141c"/>
<line x1="1051" y1="642.8" x2="1299" y2="642.8" stroke="#d93a40" stroke-width="1.35"/>
<line x1="1051" y1="868.3" x2="1299" y2="868.3" stroke="#d93a40" stroke-width="1.35"/>
<line x1="1058.5" y1="642.8" x2="1058.5" y2="868.3" stroke="#d93a40" stroke-width="1.35"/>
<polygon points="1058.5,643.3 1055.9,648.3 1061.1,648.3" fill="#d4141c"/>
<polygon points="1058.5,867.8 1055.9,862.8 1061.1,862.8" fill="#d4141c"/>
<line x1="1299.4" y1="642.8" x2="1299.4" y2="868.3" stroke="#d93a40" stroke-width="1.3" stroke-dasharray="5.5 3.3"/>
<line x1="1585" y1="644.6" x2="1813" y2="644.6" stroke="#d93a40" stroke-width="1.35"/>
<line x1="1585" y1="868.3" x2="1813" y2="868.3" stroke="#d93a40" stroke-width="1.35"/>
<line x1="1804.8" y1="644.6" x2="1804.8" y2="868.3" stroke="#d93a40" stroke-width="1.35"/>
<polyline points="1801.6,651.0 1804.8,645.0 1808.0,651.0" fill="none" stroke="#d4141c" stroke-width="1.1"/>
<polyline points="1801.6,862.0 1804.8,868.0 1808.0,862.0" fill="none" stroke="#d4141c" stroke-width="1.1"/>
<line x1="1585" y1="644.6" x2="1585" y2="868.3" stroke="#d93a40" stroke-width="1.3" stroke-dasharray="5.5 3.3"/>
<text x="343" y="120" font-size="18" fill="#0d0d0d" textLength="173.5" lengthAdjust="spacingAndGlyphs" stroke="#0d0d0d" stroke-width="0.25" stroke-linejoin="round">Flange distance left</text>
<text x="367.8" y="164.5" font-size="30" fill="#0d0d0d" textLength="73" lengthAdjust="spacingAndGlyphs" stroke="#0d0d0d" stroke-width="0.9" stroke-linejoin="round">22.10</text>
<text x="443.5" y="164.5" font-size="22.5" fill="#0d0d0d" textLength="38.5" lengthAdjust="spacingAndGlyphs" stroke="#0d0d0d" stroke-width="0.5" stroke-linejoin="round">mm</text>
<text x="512.8" y="544" font-size="30" fill="#0d0d0d" textLength="67.5" lengthAdjust="spacingAndGlyphs" stroke="#0d0d0d" stroke-width="0.9" stroke-linejoin="round">33.11</text>
<text x="586" y="544" font-size="22.5" fill="#0d0d0d" textLength="39" lengthAdjust="spacingAndGlyphs" stroke="#0d0d0d" stroke-width="0.5" stroke-linejoin="round">mm</text>
<text x="487" y="569" font-size="18" fill="#0d0d0d" textLength="185.5" lengthAdjust="spacingAndGlyphs" stroke="#0d0d0d" stroke-width="0.25" stroke-linejoin="round">Flange distance right</text>
<text x="327.5" y="585" font-size="20" fill="#d4141c" stroke="#d4141c" stroke-width="0.5" stroke-linejoin="round">a</text>
<text x="643" y="585" font-size="20" fill="#d4141c" stroke="#d4141c" stroke-width="0.5" stroke-linejoin="round">a</text>
<text x="98.8" y="840" font-size="18" fill="#0d0d0d" textLength="212.5" lengthAdjust="spacingAndGlyphs" transform="rotate(-90 98.8 840)" stroke="#0d0d0d" stroke-width="0.25" stroke-linejoin="round">Pitch circle diameter left</text>
<text x="116.6" y="835.5" font-size="29" fill="#0d0d0d" textLength="90" lengthAdjust="spacingAndGlyphs" stroke="#0d0d0d" stroke-width="0.6" stroke-linejoin="round">58mm</text>
<text x="884.3" y="844.4" font-size="18" fill="#0d0d0d" textLength="225" lengthAdjust="spacingAndGlyphs" transform="rotate(-90 884.3 844.4)" stroke="#0d0d0d" stroke-width="0.25" stroke-linejoin="round">Pitch circle diameter right</text>
<text x="762.8" y="834.2" font-size="29" fill="#0d0d0d" textLength="91" lengthAdjust="spacingAndGlyphs" stroke="#0d0d0d" stroke-width="0.6" stroke-linejoin="round">58mm</text>
<text x="1298" y="119.8" font-size="18.6" fill="#0d0d0d" textLength="181" lengthAdjust="spacingAndGlyphs" stroke="#0d0d0d" stroke-width="0.25" stroke-linejoin="round">Flange distance left</text>
<text x="1329" y="153" font-size="24.5" fill="#0d0d0d" textLength="63" lengthAdjust="spacingAndGlyphs" stroke="#0d0d0d" stroke-width="0.6" stroke-linejoin="round">31.40</text>
<text x="1393.5" y="153" font-size="27" fill="#0d0d0d" textLength="41" lengthAdjust="spacingAndGlyphs" stroke="#0d0d0d" stroke-width="0.4" stroke-linejoin="round">mm</text>
<text x="1467" y="474.3" font-size="23" fill="#0d0d0d" textLength="59.5" lengthAdjust="spacingAndGlyphs" stroke="#0d0d0d" stroke-width="0.4" stroke-linejoin="round">30.80</text>
<text x="1527" y="474.3" font-size="24.5" fill="#0d0d0d" textLength="44.5" lengthAdjust="spacingAndGlyphs" stroke="#0d0d0d" stroke-width="0.4" stroke-linejoin="round">mm</text>
<text x="1431.2" y="505" font-size="18.6" fill="#0d0d0d" textLength="194.5" lengthAdjust="spacingAndGlyphs" stroke="#0d0d0d" stroke-width="0.25" stroke-linejoin="round">Flange distance right</text>
<text x="1280.5" y="562" font-size="20" fill="#d4141c" stroke="#d4141c" stroke-width="0.4" stroke-linejoin="round">a</text>
<text x="1593" y="563.5" font-size="20" fill="#d4141c" stroke="#d4141c" stroke-width="0.4" stroke-linejoin="round">a</text>
<text x="1046.5" y="854.5" font-size="19" fill="#0d0d0d" textLength="200.5" lengthAdjust="spacingAndGlyphs" transform="rotate(-90 1046.5 854.5)">Pitch circle diameter left</text>
<text x="1064.2" y="864.2" font-size="26.5" fill="#0d0d0d" textLength="80" lengthAdjust="spacingAndGlyphs">58mm</text>
<text x="1823.5" y="864" font-size="19" fill="#0d0d0d" textLength="207" lengthAdjust="spacingAndGlyphs" transform="rotate(-90 1823.5 864)">Pitch circle diameterright</text>
<text x="1718.8" y="864.2" font-size="26.5" fill="#0d0d0d" textLength="80" lengthAdjust="spacingAndGlyphs">58mm</text>
</svg>
</body></html>
